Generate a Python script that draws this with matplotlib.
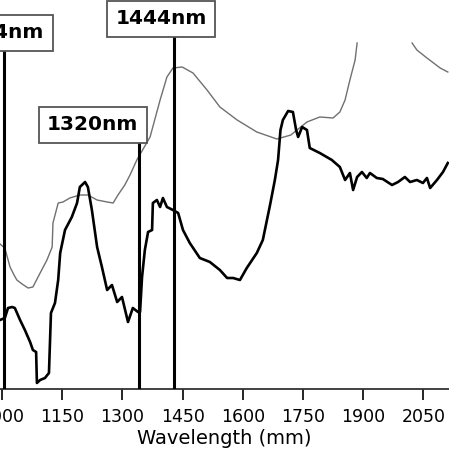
import numpy as np
import matplotlib.pyplot as plt

# thin grey spectrum (NaN marks the off-scale gap)
grey_wl = [995, 1007, 1020, 1030, 1037, 1050, 1065, 1077, 1095, 1112, 1125, 1127,
           1140, 1152, 1169, 1194, 1214, 1237, 1262, 1277, 1289, 1306, 1319, 1336,
           1369, 1394, 1411, 1426, 1449, 1476, 1511, 1543, 1586, 1635, 1685, 1720,
           1735, 1760, 1792, 1825, 1842, 1855, 1867, 1880, 1885, 1950,
           2022, 2034, 2059, 2092, 2111]
grey_ab = [1.45, 1.41, 1.22, 1.14, 1.09, 1.05, 1.01, 1.02, 1.16, 1.29, 1.42, 1.66,
           1.86, 1.87, 1.91, 1.94, 1.94, 1.89, 1.87, 1.86, 1.94, 2.04, 2.14, 2.29,
           2.52, 2.89, 3.12, 3.21, 3.22, 3.16, 2.99, 2.82, 2.69, 2.57, 2.50, 2.54,
           2.59, 2.67, 2.72, 2.71, 2.77, 2.89, 3.09, 3.29, 3.46, np.nan,
           3.46, 3.39, 3.31, 3.21, 3.17]

# thick black spectrum
black_wl = [995, 1007, 1015, 1025, 1032, 1045, 1057, 1070, 1077, 1085, 1087, 1095,
            1107, 1117, 1122, 1132, 1140, 1145, 1157, 1174, 1187, 1194, 1207, 1214,
            1224, 1237, 1249, 1262, 1274, 1287, 1299, 1314, 1326, 1339, 1344, 1349,
            1356, 1364, 1374, 1376, 1386, 1394, 1401, 1411, 1426, 1439, 1451, 1468,
            1493, 1518, 1543, 1561, 1576, 1593, 1610, 1635, 1650, 1668, 1680, 1688,
            1694, 1700, 1713, 1725, 1733, 1738, 1748, 1760, 1767, 1792, 1822, 1842,
            1855, 1867, 1875, 1885, 1897, 1909, 1917, 1934, 1949, 1972, 1987, 2004,
            2017, 2034, 2049, 2059, 2067, 2084, 2099, 2111]
black_ab = [0.69, 0.71, 0.81, 0.82, 0.81, 0.69, 0.59, 0.47, 0.39, 0.37, 0.06, 0.09,
            0.11, 0.16, 0.76, 0.86, 1.09, 1.36, 1.59, 1.72, 1.86, 2.02, 2.07, 2.02,
            1.79, 1.42, 1.22, 0.99, 1.04, 0.87, 0.92, 0.67, 0.81, 0.77, 0.77, 1.12,
            1.39, 1.57, 1.59, 1.86, 1.89, 1.82, 1.91, 1.82, 1.79, 1.76, 1.59, 1.46,
            1.31, 1.27, 1.19, 1.11, 1.11, 1.09, 1.21, 1.36, 1.49, 1.84, 2.09, 2.29,
            2.59, 2.69, 2.78, 2.77, 2.59, 2.52, 2.62, 2.59, 2.41, 2.36, 2.29, 2.22,
            2.09, 2.16, 1.99, 2.12, 2.17, 2.11, 2.16, 2.11, 2.10, 2.04, 2.07, 2.12,
            2.07, 2.09, 2.06, 2.11, 2.01, 2.09, 2.17, 2.26]

# marker lines and their labels
marker_wl = [1006, 1341, 1429]
marker_top = [3.37, 2.46, 3.52]
marker_text = ['1004nm', '1320nm', '1444nm']
label_wl = [992, 1226, 1396]
label_ab = [3.56, 2.64, 3.70]

xticks = [1000, 1150, 1300, 1450, 1600, 1750, 1900, 2050]

fig = plt.figure(figsize=(4.49, 4.49), dpi=100)
ax = fig.add_axes([0, 60 / 449, 1, 389 / 449])

ax.plot(grey_wl, grey_ab, color='#707070', lw=1.0)
ax.plot(black_wl, black_ab, color='black', lw=1.9)

for wl, top in zip(marker_wl, marker_top):
    ax.plot([wl, wl], [0, top], color='black', lw=2.2, zorder=3)

for txt, x, y in zip(marker_text, label_wl, label_ab):
    ax.text(x, y, txt, ha='center', va='center', fontsize=14.5, fontweight='bold',
            zorder=4, clip_on=False,
            bbox=dict(boxstyle='square,pad=0.42', fc='white', ec='#555555', lw=1.3))

ax.set_xlim(995, 2114)
ax.set_ylim(0, 3.89)
ax.set_xticks(xticks)
ax.set_yticks([])
ax.tick_params(axis='x', direction='out', length=8, width=1.2, pad=6,
               labelsize=12.5, colors='black')
for side in ['left', 'top', 'right']:
    ax.spines[side].set_visible(False)
ax.spines['bottom'].set_linewidth(1.3)
ax.spines['bottom'].set_color('#333333')
ax.set_xlabel('Wavelength (mm)', fontsize=14, labelpad=1.5)

fig.savefig('out.png', dpi=100)
